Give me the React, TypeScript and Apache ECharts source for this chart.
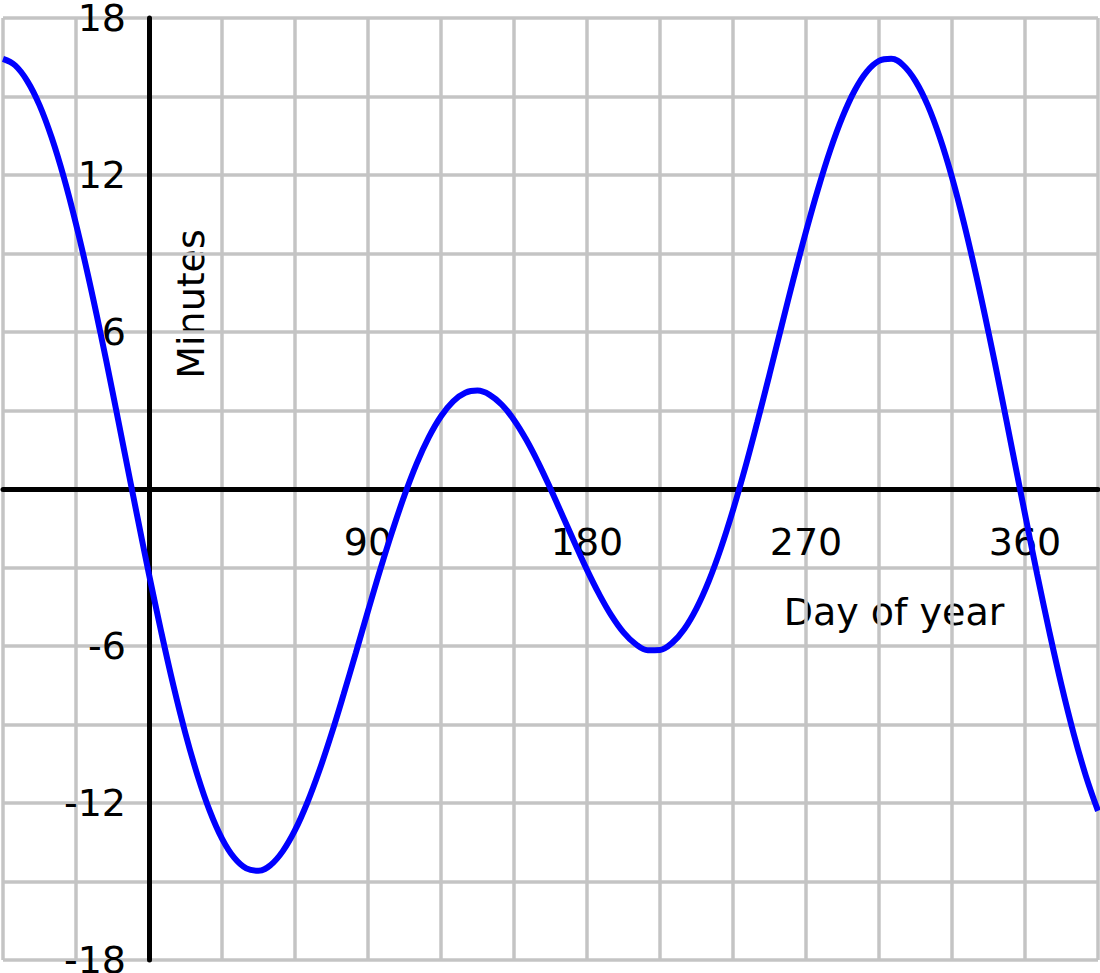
import { useEffect, useRef } from "react";
import * as echarts from "echarts";

// day of year (x) and equation of time in minutes (y), every 5 days
const days = [
  -60, -55, -50, -45, -40, -35, -30, -25, -20, -15, -10, -5, 0, 5, 10, 15, 20, 25, 30, 35, 40, 45, 50, 55, 60,
  65, 70, 75, 80, 85, 90, 95, 100, 105, 110, 115, 120, 125, 130, 135, 140, 145, 150, 155, 160, 165, 170, 175,
  180, 185, 190, 195, 200, 205, 210, 215, 220, 225, 230, 235, 240, 245, 250, 255, 260, 265, 270, 275, 280, 285,
  290, 295, 300, 305, 310, 315, 320, 325, 330, 335, 340, 345, 350, 355, 360, 365, 370, 375, 380, 385, 390,
];
const minutes = [
  16.44, 16.19, 15.59, 14.67, 13.43, 11.91, 10.13, 8.14, 5.99, 3.72, 1.38, -0.96, -3.26, -5.45, -7.5, -9.35,
  -10.96, -12.31, -13.36, -14.09, -14.5, -14.59, -14.37, -13.84, -13.04, -12.0, -10.76, -9.36, -7.84, -6.26,
  -4.66, -3.09, -1.61, -0.24, 0.97, 1.98, 2.78, 3.35, 3.68, 3.76, 3.6, 3.22, 2.64, 1.89, 1.0, 0.01, -1.03, -2.07,
  -3.09, -4.02, -4.83, -5.48, -5.93, -6.16, -6.15, -5.88, -5.35, -4.56, -3.53, -2.27, -0.81, 0.81, 2.56, 4.38,
  6.24, 8.08, 9.84, 11.48, 12.96, 14.22, 15.23, 15.95, 16.36, 16.44, 16.19, 15.59, 14.67, 13.43, 11.91, 10.13,
  8.14, 5.99, 3.72, 1.38, -0.96, -3.26, -5.45, -7.5, -9.35, -10.96, -12.3,
];
const xTickLabels = [90, 180, 270, 360];
const yTickLabels = [18, 12, 6, -6, -12, -18];

const FONT = "DejaVu Sans";
const FONT_SIZE = 38;

// grid box in page pixels
const GRID = { left: 3, right: 2, top: 18, bottom: 13 };
const W = 1100;
const H = 973;

export default function App() {
  const ref = useRef<HTMLDivElement>(null);

  useEffect(() => {
    if (!ref.current) return;
    const chart = echarts.init(ref.current, null, { renderer: "svg" });

    const xMin = -60;
    const xMax = 390;
    const yMin = -18;
    const yMax = 18;
    // distance from the grid edges to the zero lines, so the tick labels sit along the axes through zero
    const plotW = W - GRID.left - GRID.right;
    const plotH = H - GRID.top - GRID.bottom;
    const xZeroOffset = ((0 - xMin) / (xMax - xMin)) * plotW;
    const yZeroOffset = ((0 - yMin) / (yMax - yMin)) * plotH;

    const gridLine = { show: true, lineStyle: { color: "#c4c4c4", width: 3.5 } };
    const axisLine = { show: true, onZero: true, lineStyle: { color: "#000", width: 5 } };
    const labelText = { fontFamily: FONT, fontSize: FONT_SIZE, color: "#000", hideOverlap: false };

    chart.setOption({
      animation: false,
      backgroundColor: "#fff",
      grid: { ...GRID, containLabel: false, outerBoundsMode: "none" },
      xAxis: [
        {
          type: "value",
          position: "bottom",
          min: xMin,
          max: xMax,
          interval: 30,
          axisLine,
          axisTick: { show: false },
          axisLabel: { show: false },
          splitLine: gridLine,
        },
        {
          type: "value",
          position: "bottom",
          offset: -yZeroOffset,
          min: xMin,
          max: xMax,
          interval: 30,
          axisLine: { show: false, onZero: false },
          axisTick: { show: false },
          splitLine: { show: false },
          axisLabel: {
            ...labelText,
            margin: 34,
            formatter: (v: number) => (xTickLabels.includes(v) ? String(v) : ""),
          },
        },
      ],
      yAxis: [
        {
          type: "value",
          position: "left",
          min: yMin,
          max: yMax,
          interval: 3,
          axisLine,
          axisTick: { show: false },
          axisLabel: { show: false },
          splitLine: gridLine,
        },
        {
          type: "value",
          position: "left",
          offset: -xZeroOffset,
          min: yMin,
          max: yMax,
          interval: 3,
          axisLine: { show: false, onZero: false },
          axisTick: { show: false },
          splitLine: { show: false },
          axisLabel: {
            ...labelText,
            margin: 23,
            showMinLabel: true,
            showMaxLabel: true,
            formatter: (v: number) => (yTickLabels.includes(v) ? String(v) : ""),
          },
        },
      ],
      series: [
        {
          type: "line",
          xAxisIndex: 0,
          yAxisIndex: 0,
          data: days.map((d, i) => [d, minutes[i]]),
          smooth: 0.4,
          showSymbol: false,
          lineStyle: { color: "#0000ff", width: 6 },
          z: 3,
        },
      ],
      graphic: [
        {
          type: "text",
          x: 191,
          y: 304,
          rotation: Math.PI / 2,
          style: {
            text: "Minutes",
            fontFamily: FONT,
            fontSize: FONT_SIZE,
            fill: "#000",
            textAlign: "center",
            textVerticalAlign: "middle",
          },
        },
        {
          type: "text",
          x: 894,
          y: 612,
          style: {
            text: "Day of year",
            fontFamily: FONT,
            fontSize: FONT_SIZE,
            fill: "#000",
            textAlign: "center",
            textVerticalAlign: "middle",
          },
        },
      ],
    });

    return () => chart.dispose();
  }, []);

  return <div ref={ref} style={{ position: "absolute", left: 0, top: 0, width: W, height: H }} />;
}
